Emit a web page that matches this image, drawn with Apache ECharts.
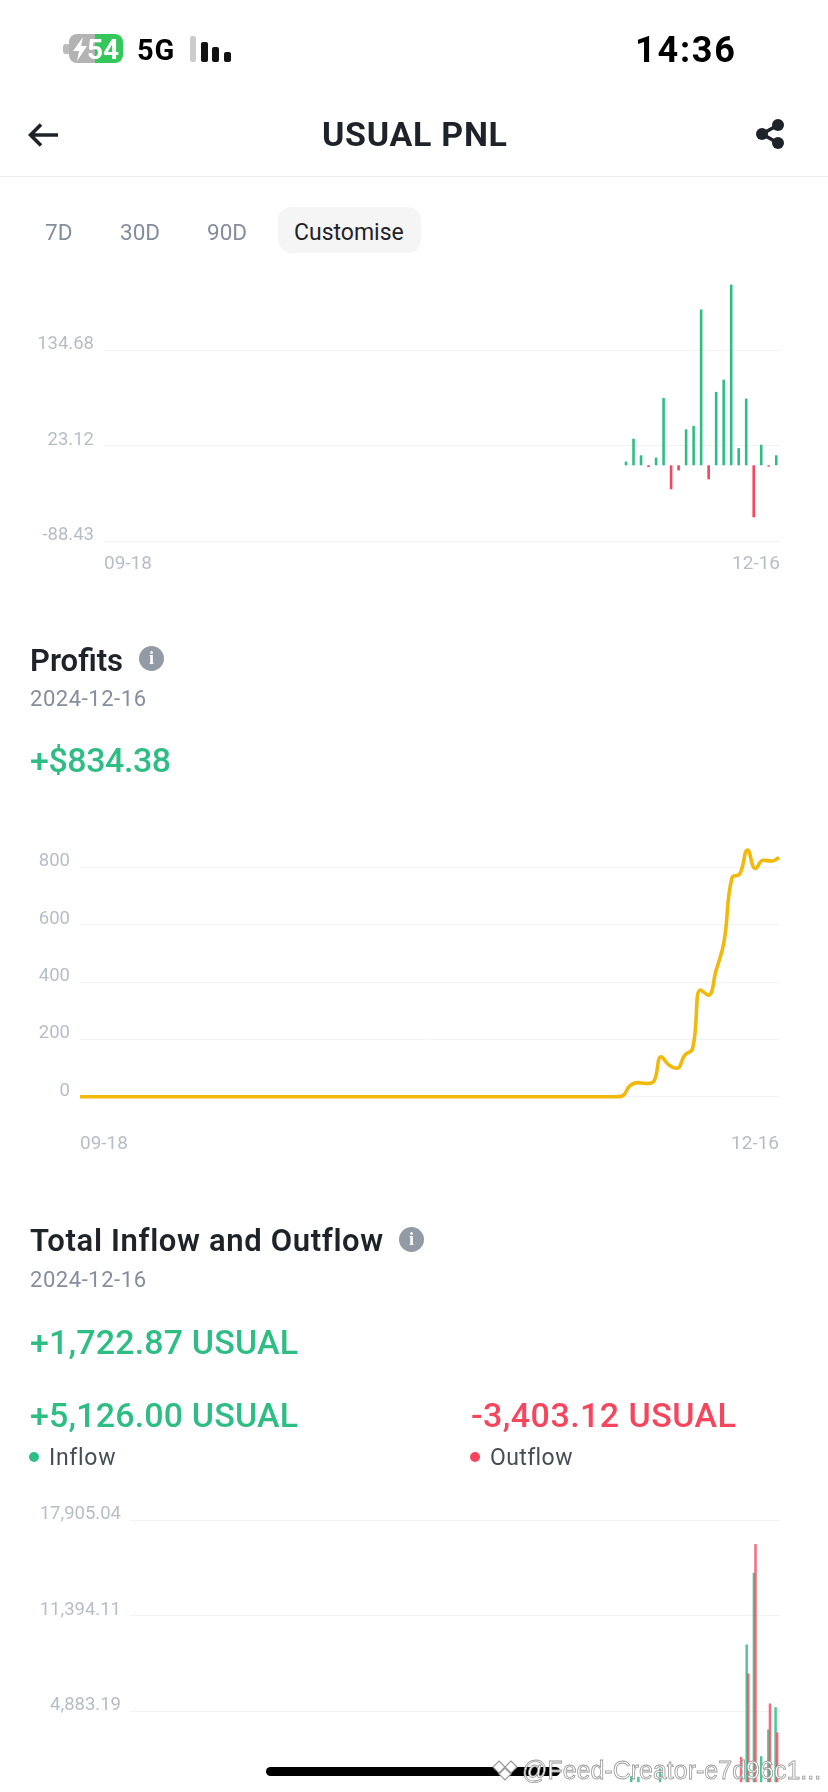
<!DOCTYPE html>
<html><head><meta charset="utf-8">
<script src="https://cdn.jsdelivr.net/npm/echarts@6/dist/echarts.min.js"></script>
<style>
html,body{margin:0;padding:0;background:#fff;width:828px;height:1792px;overflow:hidden;font-family:Roboto,sans-serif}
#c{position:absolute;left:0;top:0;width:828px;height:1830px}
.t{position:absolute;white-space:nowrap;line-height:1;transform:translateY(-50%);z-index:2}
.b{position:absolute;z-index:2}
.h2{font-size:31px;font-weight:600;color:#1E2329}
.date{font-size:22px;color:#848E9C;letter-spacing:.55px}
.val{font-size:34px;font-weight:500}
.gr{color:#2EBD85}.rd{color:#F6465D}
.tab{font-size:22.5px;color:#848E9C}
.lg{font-size:23px;color:#474D57}
.info{position:absolute;width:25px;height:25px;border-radius:50%;background:#929AA5;color:#fff;font:bold 18px/25px "Liberation Serif",serif;text-align:center;z-index:2}
.wm{font-size:25px;color:#fff;-webkit-text-stroke:.8px #9a9a9a;font-family:"Liberation Sans",sans-serif;z-index:5}
</style></head><body>
<div id="c"></div>

<div class="b" style="left:63px;top:44px;width:8px;height:10px;background:#bbb;border-radius:3px"></div>
<div class="b" style="left:69px;top:34px;width:26px;height:29px;background:#B3B3B3;border-radius:8px 0 0 8px"></div>
<div class="b" style="left:95px;top:34px;width:28px;height:29px;background:#34C759;border-radius:0 8px 8px 0"></div>
<svg class="b" style="left:72px;top:37px" width="16" height="24" viewBox="0 0 16 24"><path d="M11 0L1 14h6L5 24L15 9H9z" fill="#fff"/></svg>
<div class="t" style="left:87px;top:49px;font:bold 28px Roboto;color:#fff">54</div>
<div class="t" style="left:137px;top:50px;font:bold 29px Roboto;color:#000;letter-spacing:.9px">5G</div>
<div class="b" style="left:190px;top:36px;width:6px;height:26px;background:#ccc;border-radius:2px"></div>
<div class="b" style="left:201px;top:42px;width:7px;height:20px;background:#111;border-radius:2px"></div>
<div class="b" style="left:212px;top:47px;width:7px;height:15px;background:#111;border-radius:2px"></div>
<div class="b" style="left:224px;top:52px;width:7px;height:10px;background:#111;border-radius:2px"></div>
<div class="t" style="left:635px;top:50px;font:bold 36px Roboto;color:#000;letter-spacing:1.8px">14:36</div>

<svg class="b" style="left:28px;top:122px" width="32" height="26" viewBox="0 0 32 26"><path d="M30 13H3M13 2.500L2.500 13L13 23.500" fill="none" stroke="#1E2329" stroke-width="3.600"/></svg>
<div class="t" style="left:322px;top:134px;font-size:34px;font-weight:700;color:#1E2329;letter-spacing:.7px">USUAL PNL</div>
<svg class="b" style="left:754px;top:118px" width="32" height="32" viewBox="0 0 32 32"><path d="M24 7L8 16L24 25" fill="none" stroke="#1E2329" stroke-width="3.500"/><circle cx="24" cy="7" r="6" fill="#1E2329"/><circle cx="8" cy="16" r="6" fill="#1E2329"/><circle cx="24" cy="25" r="6" fill="#1E2329"/></svg>
<div class="b" style="left:0;top:176px;width:828px;height:1px;background:#EAECEF"></div>

<div class="t tab" style="left:45px;top:232px">7D</div>
<div class="t tab" style="left:120px;top:232px">30D</div>
<div class="t tab" style="left:207px;top:232px">90D</div>
<div class="b" style="left:278px;top:207px;width:143px;height:46px;background:#F5F5F5;border-radius:14px"></div>
<div class="t tab" style="left:294px;top:232px;color:#1E2329;font-size:23px">Customise</div>

<div class="t h2" style="left:30px;top:660px">Profits</div>
<div class="info" style="left:139px;top:646px">i</div>
<div class="t date" style="left:30px;top:699px">2024-12-16</div>
<div class="t val gr" style="left:30px;top:760px;letter-spacing:-.45px">+$834.38</div>

<div class="t h2" style="left:30px;top:1240px;letter-spacing:.65px">Total Inflow and Outflow</div>
<div class="info" style="left:399px;top:1227px">i</div>
<div class="t date" style="left:30px;top:1280px">2024-12-16</div>
<div class="t val gr" style="left:30px;top:1342px;letter-spacing:.15px">+1,722.87 USUAL</div>
<div class="t val gr" style="left:30px;top:1415px;letter-spacing:.15px">+5,126.00 USUAL</div>
<div class="t val rd" style="left:471px;top:1415px;letter-spacing:.45px">-3,403.12 USUAL</div>
<div class="b" style="left:29px;top:1452px;width:10px;height:10px;border-radius:50%;background:#2EBD85"></div>
<div class="t lg" style="left:49px;top:1457px;letter-spacing:.7px">Inflow</div>
<div class="b" style="left:470px;top:1452px;width:10px;height:10px;border-radius:50%;background:#F6465D"></div>
<div class="t lg" style="left:490px;top:1457px;letter-spacing:.4px">Outflow</div>

<div class="b" style="left:266px;top:1767px;width:294px;height:9px;background:#000;border-radius:5px;z-index:4"></div>
<svg class="b" style="left:490px;top:1758px;z-index:5" width="30" height="26" viewBox="0 0 30 26"><path d="M9 3l6 6-6 6-6-6zM21 3l6 6-6 6-6-6zM15 10l6 6-6 6-6-6z" fill="#fff" stroke="#9a9a9a" stroke-width="1.200"/></svg>
<div class="t wm" style="left:522px;top:1770px">@Feed-Creator-e7d96c1...</div>

<script>
const categories = [
'09-18','09-19','09-20','09-21','09-22','09-23','09-24','09-25','09-26','09-27','09-28','09-29','09-30',
'10-01','10-02','10-03','10-04','10-05','10-06','10-07','10-08','10-09','10-10','10-11','10-12','10-13','10-14','10-15','10-16','10-17','10-18','10-19','10-20','10-21','10-22','10-23','10-24','10-25','10-26','10-27','10-28','10-29','10-30','10-31',
'11-01','11-02','11-03','11-04','11-05','11-06','11-07','11-08','11-09','11-10','11-11','11-12','11-13','11-14','11-15','11-16','11-17','11-18','11-19','11-20','11-21','11-22','11-23','11-24','11-25','11-26','11-27','11-28','11-29','11-30',
'12-01','12-02','12-03','12-04','12-05','12-06','12-07','12-08','12-09','12-10','12-11','12-12','12-13','12-14','12-15','12-16'];
const endLabels = ['09-18','12-16'];

const dailyPnl = [
0,0,0,0,0,0,0,0,0,0,0,0,0,0,0,0,0,0,0,0,0,0,0,0,0,0,0,0,0,0,
0,0,0,0,0,0,0,0,0,0,0,0,0,0,0,0,0,0,0,0,0,0,0,0,0,0,0,0,0,0,
0,0,0,0,0,0,0,0,0,
4.3,31,11.7,-2,9,78.7,-28,-6,42,46,182,-16.4,85.7,100,211,20,78,-60.7,24,-1.5,11.7];
const pnlTicks = ['-88.43','23.12','134.68',''];

const profits = [
0,0,0,0,0,0,0,0,0,0,0,0,0,0,0,0,0,0,0,0,0,0,0,0,0,0,0,0,0,0,
0,0,0,0,0,0,0,0,0,0,0,0,0,0,0,0,0,0,0,0,0,0,0,0,0,0,0,0,0,0,
0,0,0,0,0,0,0,0,0,
2,38,49,46,52,139,110,99,145,168,372,354,441,540,762,776,859,795,824,821,834.38];
const profitTicks = ['0','200','400','600','800',''];

const inflow = [
0,0,0,0,0,0,0,0,0,0,0,0,0,0,0,0,0,0,0,0,0,0,0,0,0,0,0,0,0,0,
0,0,0,0,0,0,0,0,0,0,0,0,0,0,0,0,0,0,0,0,0,0,0,0,0,0,0,0,0,0,
0,0,0,0,0,0,0,0,0,
410,365,0,0,935,0,0,0,0,0,0,0,0,0,0,0,9416,14318,1778,3602,5126];
const outflow = [
0,0,0,0,0,0,0,0,0,0,0,0,0,0,0,0,0,0,0,0,0,0,0,0,0,0,0,0,0,0,
0,0,0,0,0,0,0,0,0,0,0,0,0,0,0,0,0,0,0,0,0,0,0,0,0,0,0,0,0,0,
0,0,0,0,0,0,0,0,0,
0,0,0,0,0,0,0,0,0,0,0,0,0,0,0,1733,7433,16280,0,5381,3403.12];
const flowTicks = ['','4,883.19','11,394.11','17,905.04'];

const GREEN='#2EBD85', RED='#F6465D', GOLD='#F0B90B', LABEL='#B7BDC6', GRID='#F1F2F4';
const fontFamily='Roboto';
function yAxis(gi,min,max,interval,labels,margin,showTop){
  return {type:'value',gridIndex:gi,min,max,interval,
    axisLine:{show:false},axisTick:{show:false},
    splitLine:{show:true,showMaxLine:showTop,lineStyle:{color:GRID,width:1}},
    axisLabel:{color:LABEL,fontSize:18.5,fontFamily,margin,verticalAlign:'bottom',lineHeight:11,
      showMaxLabel:showTop,
      formatter:(v,i)=>labels[i]||''}};
}
function endAxis(gi,margin){
  return {type:'category',gridIndex:gi,boundaryGap:false,data:endLabels,position:'bottom',
    axisLine:{show:false},axisTick:{show:false},splitLine:{show:false},
    axisLabel:{color:LABEL,fontSize:19,fontFamily,margin,interval:0,alignMinLabel:'left',alignMaxLabel:'right'}};
}
const cat=(gi,gap)=>({type:'category',gridIndex:gi,data:categories,boundaryGap:gap,show:false});
const chart=echarts.init(document.getElementById('c'),null,{renderer:'canvas'});
chart.setOption({
  animation:false,
  grid:[
    {left:104,right:48,top:254.5,height:286.5},
    {left:80,right:49,top:809.7,height:287},
    {left:130,right:48,top:1520.3,height:285.7}
  ],
  xAxis:[cat(0,true),endAxis(0,14),cat(1,false),endAxis(1,38),cat(2,true)],
  yAxis:[
    yAxis(0,-88.43,246.235,111.555,pnlTicks,10,false),
    yAxis(1,0,1000,200,profitTicks,10,false),
    yAxis(2,-1627.74,17905.05,6510.93,flowTicks,9,true)
  ],
  series:[
    {type:'bar',xAxisIndex:0,yAxisIndex:0,data:dailyPnl,barWidth:2.6,
      itemStyle:{color:p=>p.value<0?RED:GREEN}},
    {type:'line',xAxisIndex:2,yAxisIndex:1,data:profits,showSymbol:false,smooth:0.45,clip:false,
      lineStyle:{color:GOLD,width:3.6}},
    {type:'bar',xAxisIndex:4,yAxisIndex:2,data:inflow,barWidth:2.5,barGap:'-36%',
      itemStyle:{color:GREEN,opacity:.85}},
    {type:'bar',xAxisIndex:4,yAxisIndex:2,data:outflow,barWidth:2.5,barGap:'-36%',
      itemStyle:{color:RED,opacity:.8}}
  ]
});
</script>
</body></html>
